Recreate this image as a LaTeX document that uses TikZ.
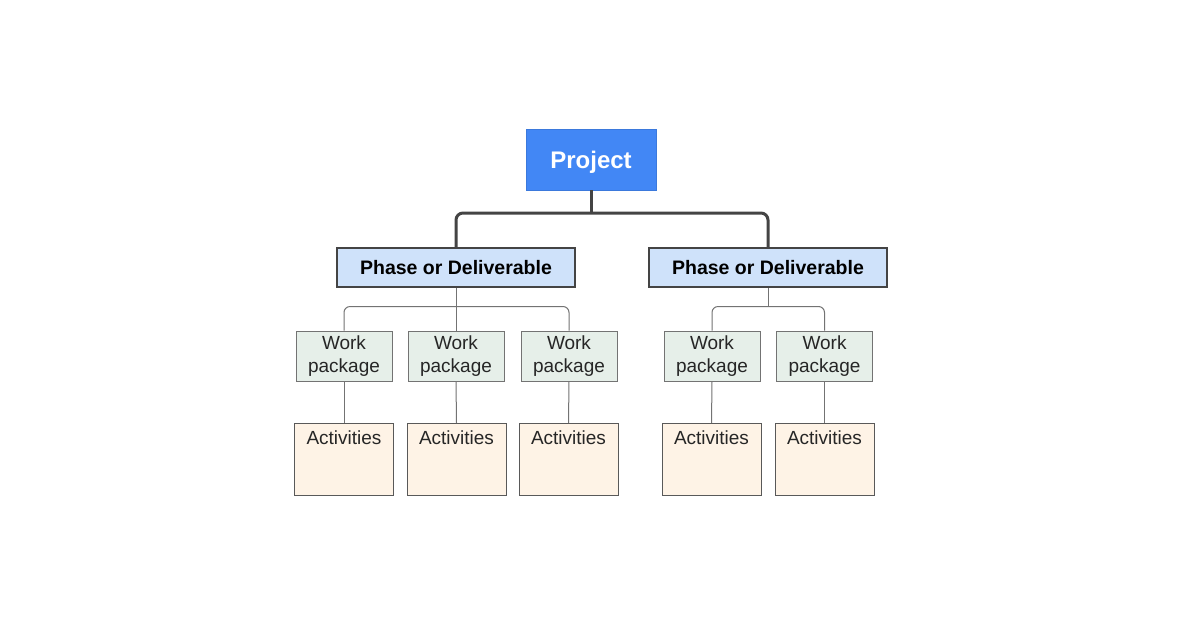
\documentclass[tikz,border=0pt]{standalone}
\usepackage{fontspec}
\setmainfont{Liberation Sans}
\usetikzlibrary{positioning}

\definecolor{projblue}{RGB}{66,135,245}
\definecolor{phasefill}{RGB}{207,226,250}
\definecolor{wpfill}{RGB}{230,239,233}
\definecolor{actfill}{RGB}{254,243,230}
\definecolor{linegray}{RGB}{68,68,68}

\begin{document}
\begin{tikzpicture}[
    x=1pt, y=-1pt,
    projnode/.style={rectangle, draw=projblue!90!black, line width=0.8pt, fill=projblue, text=white,
        minimum width=130pt, minimum height=61pt, inner sep=0pt, text depth=0pt,
        font=\fontsize{24}{28}\selectfont\bfseries},
    phasenode/.style={rectangle, draw=linegray, line width=2pt, fill=phasefill, text=black,
        minimum width=238pt, minimum height=39pt, inner sep=0pt, font=\fontsize{19.5}{23}\selectfont\bfseries},
    wpnode/.style={rectangle, draw=black!55, line width=1pt, fill=wpfill, text=black!85,
        minimum width=96pt, minimum height=50pt, inner sep=0pt, align=center, font=\fontsize{19}{23}\selectfont},
    actnode/.style={rectangle, draw=black!65, line width=1pt, fill=actfill, text=black!85,
        minimum width=99pt, inner xsep=0pt, inner ysep=3pt, text height=18pt, text depth=48pt,
        font=\fontsize{19}{22}\selectfont},
    trunk/.style={draw=linegray, line width=3pt, rounded corners=7pt},
    twig/.style={draw=black!55, line width=1pt, rounded corners=6pt}
]
\useasboundingbox[fill=white] (0,0) rectangle (1200,630);

% ===== Top =====
\node[projnode] (project) at (591, 159.5) {Project};

% ===== Phases =====
\node[phasenode] (ph_L) at (456, 267.5) {Phase or Deliverable};
\node[phasenode] (ph_R) at (768, 267.5) {Phase or Deliverable};

\draw[trunk] (ph_L.north) -- ++(0,-34) -| (ph_R.north);
\draw[trunk] (project.south) -- ++(0,24);

% ===== Work packages, left =====
\node[wpnode] (wp_L1) at (344, 356) {Work\\package};
\node[wpnode] (wp_L2) at (456, 356) {Work\\package};
\node[wpnode] (wp_L3) at (569, 356) {Work\\package};

\draw[twig] (wp_L1.north) -- ++(0,-24) -| (wp_L3.north);
\draw[twig] (ph_L.south) -- (wp_L2.north);

% ===== Work packages, right =====
\node[wpnode] (wp_R1) at (712, 356) {Work\\package};
\node[wpnode] (wp_R2) at (824.5, 356) {Work\\package};

\draw[twig] (wp_R1.north) -- ++(0,-24) -| (wp_R2.north);
\draw[twig] (ph_R.south) -- ++(0,19);

% ===== Activities =====
\node[actnode, anchor=north] (act_L1) at (344, 423) {Activities};
\node[actnode, anchor=north] (act_L2) at (456.5, 423) {Activities};
\node[actnode, anchor=north] (act_L3) at (568.5, 423) {Activities};
\node[actnode, anchor=north] (act_R1) at (711.5, 423) {Activities};
\node[actnode, anchor=north] (act_R2) at (824.5, 423) {Activities};

\draw[twig] (wp_L1.south) -- (act_L1.north);
\draw[twig] (wp_L2.south) -- (act_L2.north);
\draw[twig] (wp_L3.south) -- (act_L3.north);
\draw[twig] (wp_R1.south) -- (act_R1.north);
\draw[twig] (wp_R2.south) -- (act_R2.north);

\end{tikzpicture}
\end{document}
